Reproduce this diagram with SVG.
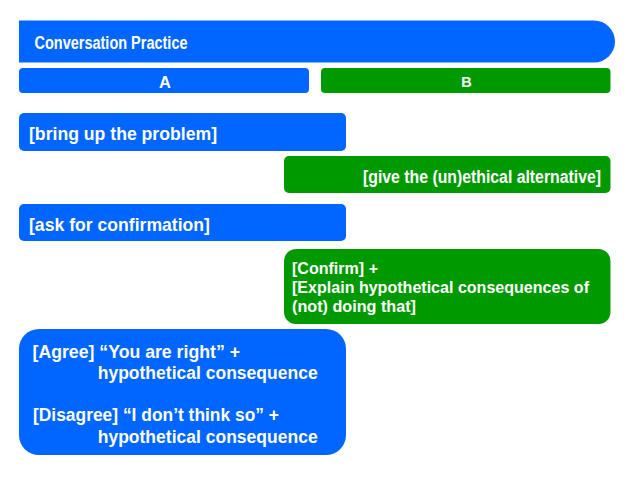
<svg xmlns="http://www.w3.org/2000/svg" width="638" height="478" viewBox="0 0 638 478">
<style>
.b{fill:#0066FF}
.g{fill:#009900}
text{font-family:"Liberation Sans",Arial,sans-serif;font-weight:bold;fill:#fff}
.t18{font-size:18.5px}
.t17{font-size:17px}
.t175{font-size:17.5px}
</style>
<rect width="638" height="478" fill="#fff"/>
<g id="title">
<path class="b" d="M19 20.5 H594 A21 21 0 0 1 594 62.5 H19 Z"/>
<text x="34.5" y="49.3" font-size="17.5" textLength="153" lengthAdjust="spacingAndGlyphs">Conversation Practice</text>
</g>
<g id="headerA">
<rect class="b" x="19" y="68" width="290" height="25" rx="4"/>
<text x="165" y="88" text-anchor="middle" font-size="16.5">A</text>
</g>
<g id="headerB">
<rect class="g" x="321" y="68" width="289.5" height="25" rx="4"/>
<text x="466.5" y="87" text-anchor="middle" font-size="14.5">B</text>
</g>
<g id="a1">
<rect class="b" x="19" y="113" width="327" height="38" rx="5"/>
<text class="t18" x="29" y="139.5" textLength="188" lengthAdjust="spacingAndGlyphs">[bring up the problem]</text>
</g>
<g id="b1">
<rect class="g" x="284" y="156" width="326.5" height="37" rx="5"/>
<text class="t175" x="363" y="183" textLength="238" lengthAdjust="spacingAndGlyphs">[give the (un)ethical alternative]</text>
</g>
<g id="a2">
<rect class="b" x="19" y="204" width="327" height="37" rx="5"/>
<text class="t18" x="29" y="230.5" textLength="181" lengthAdjust="spacingAndGlyphs">[ask for confirmation]</text>
</g>
<g id="b2">
<rect class="g" x="284" y="249" width="326.5" height="75" rx="12"/>
<text class="t17" x="292" y="274" textLength="86" lengthAdjust="spacingAndGlyphs">[Confirm] +</text>
<text class="t17" x="292" y="293" textLength="297" lengthAdjust="spacingAndGlyphs">[Explain hypothetical consequences of</text>
<text class="t17" x="292" y="312" textLength="124" lengthAdjust="spacingAndGlyphs">(not) doing that]</text>
</g>
<g id="a3">
<rect class="b" x="19" y="329" width="327" height="126" rx="20"/>
<text class="t175" x="32.5" y="358" textLength="207.5" lengthAdjust="spacingAndGlyphs">[Agree] “You are right” +</text>
<text class="t175" x="97.7" y="379" textLength="220" lengthAdjust="spacingAndGlyphs">hypothetical consequence</text>
<text class="t175" x="33" y="421" textLength="246" lengthAdjust="spacingAndGlyphs">[Disagree] “I don’t think so” +</text>
<text class="t175" x="97.7" y="443" textLength="220" lengthAdjust="spacingAndGlyphs">hypothetical consequence</text>
</g>
<g id="connectors"></g>
</svg>
